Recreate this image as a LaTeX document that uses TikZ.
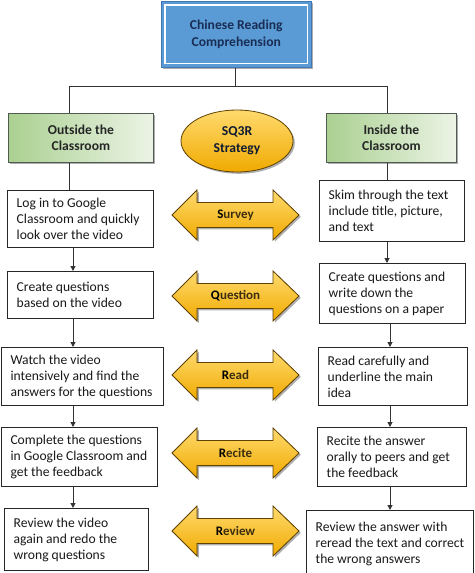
\documentclass[tikz,border=0pt]{standalone}
\usepackage{fontspec}
\setmainfont{Carlito}
\usetikzlibrary{arrows.meta,shadows,shapes.geometric,calc}
\definecolor{topblue}{RGB}{91,155,213}
\definecolor{topedge}{RGB}{65,120,180}
\definecolor{navytext}{RGB}{25,45,85}
\definecolor{greenA}{RGB}{170,208,145}
\definecolor{greenB}{RGB}{236,244,230}
\definecolor{greenedge}{RGB}{80,90,80}
\definecolor{goldA}{RGB}{255,218,110}
\definecolor{goldB}{RGB}{240,170,0}
\definecolor{goldedge}{RGB}{95,65,0}
\definecolor{arrowtxt}{RGB}{60,45,15}
\definecolor{linecol}{RGB}{50,50,50}
\newcommand\mybox[6]{%
  \node[tbox, minimum width=#4pt, minimum height=#5pt, anchor=north west] (#1) at (#2,#3) {};
  \node[tboxtext, anchor=west] (#1t) at ([xshift=9.5pt]#1.west) {#6};}
\newcommand\sqarrow[4]{%
  \filldraw[goldarrow] (172,#2) -- (197,#2-25) -- (197,#2-12.5) -- (273,#2-12.5) -- (273,#2-25)
     -- (299,#2) -- (273,#2+25) -- (273,#2+12.5) -- (197,#2+12.5) -- (197,#2+25) -- cycle;
  \node[arrowlabel] (#1) at (235.5,#2) {\textbf{#3}{\color{arrowtxt}\bfseries #4}};}
\begin{document}
\begin{tikzpicture}[x=1pt,y=-1pt,
  myshadow/.style={drop shadow={shadow xshift=1.8pt,shadow yshift=-1.8pt,opacity=0.45,fill=black!70}},
  topbox/.style={draw=topedge,line width=0.5pt,fill=topblue,myshadow,
     font=\fontsize{13.6}{17}\selectfont\bfseries,text=navytext,align=center},
  greenbox/.style={draw=greenedge,line width=0.8pt,left color=greenA,right color=greenB,myshadow,
     font=\fontsize{13.6}{16}\selectfont\bfseries,text=black!85,align=center},
  goldell/.style={ellipse,draw=goldedge,line width=0.8pt,top color=goldA,bottom color=goldB,myshadow,
     font=\fontsize{13.6}{17}\selectfont\bfseries,text=navytext!60!black,align=center,inner sep=0pt},
  tbox/.style={draw=black!85,line width=1pt,fill=white},
  tboxtext/.style={font=\fontsize{13.6}{16}\selectfont,text=black!90,align=left,inner sep=0pt},
  goldarrow/.style={draw=goldedge,line width=0.8pt,top color=goldA,bottom color=goldB,myshadow},
  arrowlabel/.style={font=\fontsize{13}{15}\selectfont,inner sep=0pt},
  conn/.style={draw=linecol,line width=1pt},
  arr/.style={conn,-{Triangle[length=5pt,width=5pt]}}
]
\useasboundingbox (0,0) rectangle (474,573);

% title
\node[topbox, minimum width=150pt, minimum height=66pt, anchor=north west] (top) at (161,1) {Chinese Reading\\Comprehension};
\draw[white,line width=1.5pt] ($(top.north west)+(4,4)$) rectangle ($(top.south east)+(-4,-4)$);

% headers
\node[greenbox, minimum width=145pt, minimum height=49pt, anchor=north west] (LH) at (8,113) {Outside the\\Classroom};
\node[greenbox, minimum width=130pt, minimum height=49pt, anchor=north west] (RH) at (326,113) {Inside the\\Classroom};
\node[goldell, minimum width=112pt, minimum height=62pt] (SQ) at (237,141) {SQ3R\\Strategy};

% tree connectors
\coordinate (jc) at (235,86);
\coordinate (jl) at (69,86);
\coordinate (jr) at (387,86);
\coordinate (xl) at (73,0);
\coordinate (xr) at (390,0);
\draw[conn] (top.south -| jc) -- (jc);
\draw[conn] (jl) -- (jr);
\draw[conn] (jl) -- (jl |- LH.north);
\draw[conn] (jr) -- (jr |- RH.north);

% left column
\mybox{L1}{7}{190}{146}{57}{Log in to Google\\Classroom and quickly\\look over the video}
\mybox{L2}{7}{271}{146}{47}{Create questions\\based on the video}
\mybox{L3}{0.8}{347}{162}{58}{Watch the video\\intensively and find the\\answers for the questions}
\mybox{L4}{0.8}{427}{156}{59}{Complete the questions\\in Google Classroom and\\get the feedback}
\mybox{L5}{4}{508}{144}{62}{Review the video\\again and redo the\\wrong questions}

% right column
\mybox{R1}{319}{180}{145}{61}{Skim through the text\\include title, picture,\\and text}
\mybox{R2}{319}{263}{146}{60}{Create questions and\\write down the\\questions on a paper}
\mybox{R3}{318}{347}{149}{58}{Read carefully and\\underline the main\\idea}
\mybox{R4}{317}{427}{149}{59}{Recite the answer\\orally to peers and get\\the feedback}
\mybox{R5}{306}{510}{167}{66}{Review the answer with\\reread the text and correct\\the wrong answers}

\draw[conn] (LH.south -| jl) -- (L1.north -| jl);
\draw[conn] (RH.south -| jr) -- (R1.north -| jr);
\draw[arr] (L1.south -| xl) -- (L2.north -| xl);
\draw[arr] (L2.south -| xl) -- (L3.north -| xl);
\draw[arr] (L3.south -| xl) -- (L4.north -| xl);
\draw[arr] (L4.south -| xl) -- (L5.north -| xl);
\draw[arr] (R1.south -| jr) -- (R2.north -| jr);
\draw[arr] (R2.south -| xr) -- (R3.north -| xr);
\draw[arr] (R3.south -| xr) -- (R4.north -| xr);
\draw[arr] (R4.south -| xr) -- (R5.north -| xr);

% SQ3R arrows
\sqarrow{S}{215}{S}{urvey}
\sqarrow{Q}{296}{Q}{uestion}
\sqarrow{Rd}{375}{R}{ead}
\sqarrow{Rc}{453}{R}{ecite}
\sqarrow{Rv}{531}{R}{eview}
\end{tikzpicture}
\end{document}
